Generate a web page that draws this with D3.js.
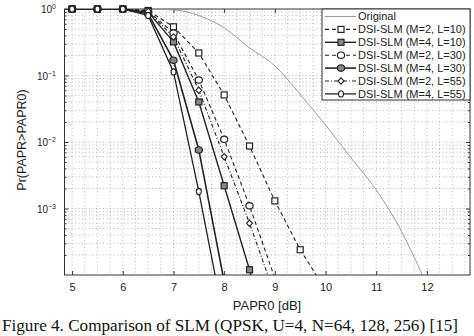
<!DOCTYPE html>
<html><head><meta charset="utf-8">
<script src="https://cdn.jsdelivr.net/npm/d3@7"></script>
<style>body{margin:0;background:#fff}svg{display:block}</style>
</head><body><svg id="c" width="474" height="336"></svg>
<script>
// ---- data ----
const xTicks = [5, 6, 7, 8, 9, 10, 11, 12];
const yTickExps = [0, -1, -2, -3];
const xOrig = [5, 5.5, 6, 6.5, 7, 7.5, 8, 8.5, 9, 9.5, 10, 10.5, 11, 11.5, 12];
const yOrig = [1, 1, 1, 0.998, 0.97, 0.8, 0.52, 0.26, 0.14, 0.052, 0.018, 0.0058, 0.0019, 0.00045, 0.00007];
const xSLM = [5, 5.5, 6, 6.5, 7, 7.5, 8, 8.5, 9, 9.5, 10];
const yM2L10 = [1, 1, 1, 0.95, 0.54, 0.218, 0.051, 0.0087, 0.0013, 0.00024, 0.00006];
const yM4L10 = [1, 1, 1, 0.9, 0.32, 0.04, 0.0022, 0.00012, 0.000005];
const yM2L30 = [1, 1, 1, 0.93, 0.435, 0.0855, 0.011, 0.0011, 0.00009];
const yM4L30 = [1, 1, 1, 0.85, 0.17, 0.0076, 0.00008];
const yM2L55 = [1, 1, 1, 0.92, 0.38, 0.06, 0.006, 0.0006, 0.00005];
const yM4L55 = [1, 1, 1, 0.8, 0.113, 0.0018, 0.00002];
const legendLabels = ["Original", "DSI-SLM (M=2, L=10)", "DSI-SLM (M=4, L=10)", "DSI-SLM (M=2, L=30)",
  "DSI-SLM (M=4, L=30)", "DSI-SLM (M=2, L=55)", "DSI-SLM (M=4, L=55)"];
const xLabel = "PAPR0 [dB]";
const yLabel = "Pr(PAPR>PAPR0)";
const caption = "Figure 4.  Comparison of SLM (QPSK, U=4, N=64, 128, 256) [15]";

// ---- layout ----
const L = 64.5, R = 470, T = 9, B = 275;
const svg = d3.select("#c");
const x = d3.scaleLinear().domain([4.85, 12.85]).range([L, R]);
const y = d3.scaleLog().domain([1e-4, 1]).range([B, T]);

svg.append("defs").append("clipPath").attr("id", "clip")
  .append("rect").attr("x", L).attr("y", T).attr("width", R - L).attr("height", B - T);

// grid
const g = svg.append("g");
const vgrid = d3.range(5, 12.85, 0.25);
g.selectAll(".vg").data(vgrid).join("line")
  .attr("x1", d => x(d)).attr("x2", d => x(d)).attr("y1", T).attr("y2", B)
  .attr("stroke", "#a8a8a8").attr("stroke-width", 0.8).attr("stroke-dasharray", "1,2.5");
const hgrid = [];
[-4, -3, -2, -1].forEach(e => { for (let k = 1; k <= 9; k++) hgrid.push(k * Math.pow(10, e)); });
g.selectAll(".hg").data(hgrid.filter(v => v > 1e-4 && v < 1)).join("line")
  .attr("x1", L).attr("x2", R).attr("y1", d => y(d)).attr("y2", d => y(d))
  .attr("stroke", "#a8a8a8").attr("stroke-width", 0.8).attr("stroke-dasharray", "1,2.5");

// axes via d3
const axB = d3.axisBottom(x).tickValues(xTicks).tickSize(-4).tickPadding(8).tickFormat(d3.format("d"));
const gb = svg.append("g").attr("transform", `translate(0,${B})`).call(axB);
const axT = d3.axisTop(x).tickValues(xTicks).tickSize(-4).tickFormat("");
svg.append("g").attr("transform", `translate(0,${T})`).call(axT);
const majors = yTickExps.map(e => Math.pow(10, e));
const minors = hgrid.filter(v => v > 1e-4 && v < 1 && !majors.includes(v));
const axL = d3.axisLeft(y).tickValues(majors).tickSize(-4).tickFormat("");
svg.append("g").attr("transform", `translate(${L},0)`).call(axL);
svg.append("g").attr("transform", `translate(${L},0)`).call(d3.axisLeft(y).tickValues(minors).tickSize(-2).tickFormat(""));
svg.append("g").attr("transform", `translate(${R},0)`).call(d3.axisRight(y).tickValues(majors).tickSize(-4).tickFormat(""));
svg.append("g").attr("transform", `translate(${R},0)`).call(d3.axisRight(y).tickValues(minors).tickSize(-2).tickFormat(""));
svg.selectAll(".domain").remove();
svg.selectAll(".tick line").attr("stroke", "#333");
gb.selectAll("text").attr("font-family", "Liberation Sans, Arial, sans-serif").attr("font-size", 11).attr("fill", "#222");

// y labels with superscripts
yTickExps.forEach(e => {
  const t = svg.append("text").attr("x", 56).attr("y", y(Math.pow(10, e)) + 4)
    .attr("text-anchor", "end").attr("font-family", "Liberation Sans, Arial, sans-serif")
    .attr("font-size", 10).attr("fill", "#222");
  t.append("tspan").text("10");
  t.append("tspan").attr("dy", -4).attr("font-size", 7).text(String(e).replace("-", "\u2212"));
});

// box
svg.append("rect").attr("x", L).attr("y", T).attr("width", R - L).attr("height", B - T)
  .attr("fill", "none").attr("stroke", "#333").attr("stroke-width", 1);

// series
const series = [
  {x: xOrig, y: yOrig, dash: null, w: 1, color: "#9a9a9a", marker: null},
  {x: xSLM, y: yM2L10, dash: "4,3", w: 1.1, color: "#222", marker: "square", fill: "#fff"},
  {x: xSLM, y: yM4L10, dash: null, w: 1.4, color: "#222", marker: "square", fill: "#888"},
  {x: xSLM, y: yM2L30, dash: "4,3", w: 1.1, color: "#222", marker: "circle", fill: "#fff"},
  {x: xSLM, y: yM4L30, dash: null, w: 1.6, color: "#222", marker: "circle", fill: "#888"},
  {x: xSLM, y: yM2L55, dash: "4,2,1,2", w: 1.1, color: "#222", marker: "diamond", fill: "#fff"},
  {x: xSLM, y: yM4L55, dash: null, w: 1.3, color: "#222", marker: "small", fill: "#fff"}
];
function drawMarker(sel, type, cx, cy, fill, color) {
  if (type === "square") sel.append("rect").attr("x", cx - 3).attr("y", cy - 3).attr("width", 6).attr("height", 6)
    .attr("fill", fill).attr("stroke", color).attr("stroke-width", 1.2);
  else if (type === "circle") sel.append("ellipse").attr("cx", cx).attr("cy", cy).attr("rx", 3.6).attr("ry", 3.2)
    .attr("fill", fill).attr("stroke", color).attr("stroke-width", 1.2);
  else if (type === "diamond") sel.append("path").attr("d", `M${cx},${cy - 3.2}L${cx + 3},${cy}L${cx},${cy + 3.2}L${cx - 3},${cy}Z`)
    .attr("fill", fill).attr("stroke", color).attr("stroke-width", 1.1);
  else if (type === "small") sel.append("ellipse").attr("cx", cx).attr("cy", cy).attr("rx", 2.5).attr("ry", 3.1)
    .attr("fill", fill).attr("stroke", color).attr("stroke-width", 1.1);
}
const plot = svg.append("g");
series.forEach(s => {
  const pts = s.y.map((v, i) => [s.x[i], v]);
  const line = d3.line().x(d => x(d[0])).y(d => y(d[1]));
  if (!s.marker) line.curve(d3.curveMonotoneX);
  plot.append("path").attr("d", line(pts)).attr("fill", "none").attr("stroke", s.color)
    .attr("stroke-width", s.w).attr("stroke-dasharray", s.dash).attr("clip-path", "url(#clip)");
});
series.forEach(s => {
  if (!s.marker) return;
  s.y.forEach((v, i) => { if (v >= 1e-4) drawMarker(plot, s.marker, x(s.x[i]), y(v), s.fill, s.color); });
});

// legend
const lg = svg.append("g");
const lx = 322, ly = 9, lw = 148, lh = 91;
lg.append("rect").attr("x", lx).attr("y", ly).attr("width", lw).attr("height", lh)
  .attr("fill", "#fff").attr("stroke", "#333").attr("stroke-width", 1);
legendLabels.forEach((lab, i) => {
  const s = series[i];
  const cy = 16.5 + i * 12.9;
  lg.append("line").attr("x1", 325).attr("x2", 356).attr("y1", cy).attr("y2", cy)
    .attr("stroke", s.color).attr("stroke-width", s.w).attr("stroke-dasharray", s.dash);
  if (s.marker) drawMarker(lg, s.marker, 341, cy, s.fill, s.color);
  lg.append("text").attr("x", 358).attr("y", cy + 3.8).text(lab)
    .attr("font-family", "Liberation Sans, Arial, sans-serif").attr("font-size", 11).attr("fill", "#222");
});

// axis labels
svg.append("text").attr("x", 267).attr("y", 310).attr("text-anchor", "middle").text(xLabel)
  .attr("font-family", "Liberation Sans, Arial, sans-serif").attr("font-size", 13).attr("fill", "#222");
svg.append("text").attr("transform", `translate(26,140) rotate(-90)`).attr("text-anchor", "middle").text(yLabel)
  .attr("font-family", "Liberation Sans, Arial, sans-serif").attr("font-size", 12.5).attr("fill", "#222");
// caption
svg.append("text").attr("x", 2).attr("y", 331).text(caption)
  .attr("textLength", 456).attr("lengthAdjust", "spacingAndGlyphs")
  .attr("font-family", "Liberation Serif, Times New Roman, serif").attr("font-size", 16.5).attr("fill", "#111");
</script></body></html>
